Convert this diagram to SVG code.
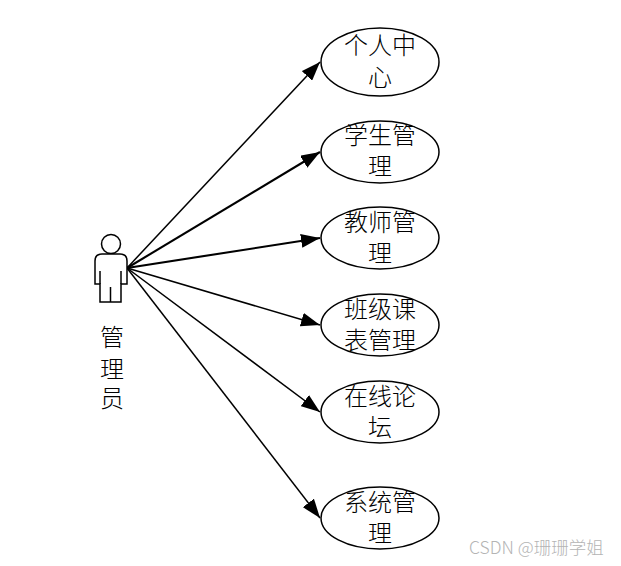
<svg xmlns="http://www.w3.org/2000/svg" width="621" height="566" viewBox="0 0 621 566">
<style>
.e{fill:#fff;stroke:#000;stroke-width:1.5}
.t{font-family:"Noto Sans CJK SC",SimSun,serif;font-size:24px;font-weight:300;text-anchor:middle;fill:#000}
.c{stroke:#000;stroke-width:1.5;fill:none;marker-end:url(#a)}
.b{stroke-width:2.1}
.p{fill:#fff;stroke:#000;stroke-width:1.5}
.w{font-family:"Noto Sans CJK SC","Liberation Sans",sans-serif;font-size:17.500px;font-weight:300;fill:#b4b4b4}
</style>
<defs>
<marker id="a" markerUnits="userSpaceOnUse" markerWidth="20" markerHeight="14" refX="19" refY="7" orient="auto"><path d="M0 0L19 7L0 14Z" fill="#000"/></marker>
</defs>
<rect width="621" height="566" fill="#fff"/>
<g id="connectors">
<line class="c" x1="127" y1="268" x2="320" y2="62"/>
<line class="c b" x1="127" y1="268" x2="320" y2="152"/>
<line class="c b" x1="127" y1="268" x2="320" y2="238"/>
<line class="c" x1="127" y1="268" x2="320" y2="325"/>
<line class="c" x1="127" y1="268" x2="320" y2="412"/>
<line class="c" x1="127" y1="268" x2="320" y2="518"/>
</g>
<g id="actor">
<circle class="p" cx="111" cy="244" r="9.500"/>
<path class="p" d="M95 284V261Q95 254 102 254H120Q127 254 127 261V284H121V302H100V284Z"/>
<path class="p" d="M100 271V284M121 271V284M110.500 287V302"/>
<text class="t" x="112"><tspan x="112" y="346">管</tspan><tspan x="112" y="378">理</tspan><tspan x="112" y="407">员</tspan></text>
</g>
<g id="n1"><ellipse class="e" cx="380" cy="62" rx="59" ry="34"/><text class="t"><tspan x="380" y="54">个人中</tspan><tspan x="380" y="86">心</tspan></text></g>
<g id="n2"><ellipse class="e" cx="380" cy="152" rx="59" ry="31"/><text class="t"><tspan x="380" y="144">学生管</tspan><tspan x="380" y="175">理</tspan></text></g>
<g id="n3"><ellipse class="e" cx="380" cy="238" rx="59" ry="31"/><text class="t"><tspan x="380" y="231">教师管</tspan><tspan x="380" y="262">理</tspan></text></g>
<g id="n4"><ellipse class="e" cx="380" cy="325" rx="59" ry="31"/><text class="t"><tspan x="380" y="318">班级课</tspan><tspan x="380" y="349">表管理</tspan></text></g>
<g id="n5"><ellipse class="e" cx="380" cy="412" rx="59" ry="31"/><text class="t"><tspan x="380" y="405">在线论</tspan><tspan x="380" y="436">坛</tspan></text></g>
<g id="n6"><ellipse class="e" cx="380" cy="518" rx="59" ry="31"/><text class="t"><tspan x="380" y="511">系统管</tspan><tspan x="380" y="542">理</tspan></text></g>
<text class="w" x="469" y="554">CSDN @珊珊学姐</text>
</svg>
